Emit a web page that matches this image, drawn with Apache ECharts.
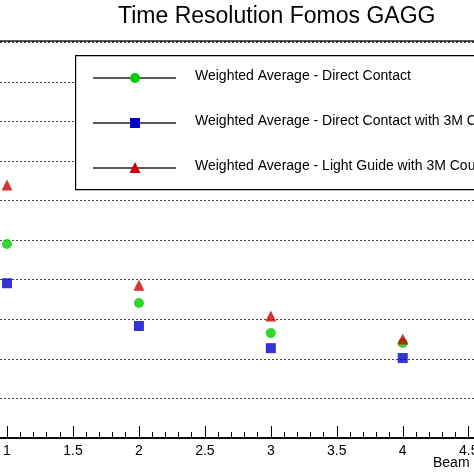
<!DOCTYPE html>
<html><head><meta charset="utf-8">
<script src="https://cdn.jsdelivr.net/npm/echarts@6/dist/echarts.min.js"></script>
<style>html,body{margin:0;background:#fff}#c{width:474px;height:474px}</style>
</head><body><div id="c"></div>
<script>
// beam positions and time resolution (arbitrary grid units, y labels cropped off)
var beam = [1, 2, 3, 4];
var directContact = [4.90, 3.41, 2.65, 2.40];
var directContact3M = [3.91, 2.83, 2.27, 2.02];
var lightGuide3M = [6.39, 3.86, 3.08, 2.50];
var majorTicks = [1, 1.5, 2, 2.5, 3, 3.5, 4, 4.5];
var minorTicks = [];
for (var t = 1; t <= 4.5; t += 0.1) minorTicks.push(+t.toFixed(1));

function pairs(ys) { return beam.map(function (x, i) { return [x, ys[i]]; }); }

var chart = echarts.init(document.getElementById('c'));
var axBase = { type: 'value', min: 0.947, max: 4.54, position: 'bottom',
  axisLine: { lineStyle: { color: '#000', width: 1.5 } }, splitLine: { show: false } };
var legendItems = [
  { name: 'Weighted Average - Direct Contact', color: '#00cc00', shape: 'circle' },
  { name: 'Weighted Average - Direct Contact with 3M C', color: '#0000cc', shape: 'rect' },
  { name: 'Weighted Average - Light Guide with 3M Cou', color: '#cc0000', shape: 'tri' }
];
var g = [
  { type: 'line', z: 100, shape: { x1: 0, y1: 41, x2: 474, y2: 41 }, style: { stroke: '#222', lineWidth: 1.5 } },
  { type: 'rect', left: 75, top: 55, shape: { width: 420, height: 134 }, z: 100,
    style: { fill: '#fff', stroke: '#000', lineWidth: 1.2 } },
  { type: 'text', left: 433, top: 456, z: 100, style: { text: 'Beam', font: '14px Liberation Sans', fill: '#000' } }
];
legendItems.forEach(function (it, i) {
  var y = 78 + i * 45;
  g.push({ type: 'line', z: 101, shape: { x1: 93, y1: y, x2: 176, y2: y }, style: { stroke: '#222', lineWidth: 1.3 } });
  if (it.shape === 'circle') g.push({ type: 'circle', z: 102, shape: { cx: 135, cy: y, r: 5 }, style: { fill: it.color } });
  else if (it.shape === 'rect') g.push({ type: 'rect', z: 102, shape: { x: 130, y: y - 5, width: 10, height: 10 }, style: { fill: it.color } });
  else g.push({ type: 'polygon', z: 102, shape: { points: [[135, y - 6], [129.5, y + 5], [140.5, y + 5]] }, style: { fill: it.color } });
  g.push({ type: 'text', z: 102, left: 195, top: y - 9, style: { text: it.name, font: '14px Liberation Sans', fill: '#000' } });
});

chart.setOption({
  animation: false,
  title: { text: 'Time Resolution Fomos GAGG', left: 113, top: 0,
    textStyle: { fontFamily: 'Liberation Sans', fontWeight: 'normal', fontSize: 23, color: '#000' } },
  grid: { left: 0, right: 0, top: 41, bottom: 36, outerBoundsMode: 'none' },
  xAxis: [
    Object.assign({}, axBase, {
      axisTick: { inside: true, length: 12, customValues: majorTicks, lineStyle: { color: '#000' } },
      axisLabel: { customValues: majorTicks, color: '#000', fontSize: 14, fontFamily: 'Liberation Sans', margin: 6 }
    }),
    Object.assign({}, axBase, {
      axisTick: { inside: true, length: 6, customValues: minorTicks, lineStyle: { color: '#000' } },
      axisLabel: { show: false }
    })
  ],
  yAxis: { type: 'value', min: 0, max: 10.03, interval: 1,
    axisLine: { show: false }, axisTick: { show: false }, axisLabel: { show: false },
    splitLine: { lineStyle: { type: [2, 2], color: '#444' } } },
  series: [
    { type: 'scatter', data: pairs(directContact), symbol: 'circle', symbolSize: 10, itemStyle: { color: '#00cc00' } },
    { type: 'scatter', data: pairs(directContact3M), symbol: 'rect', symbolSize: 10, itemStyle: { color: '#0000cc' } },
    { type: 'scatter', data: pairs(lightGuide3M), symbol: 'triangle', symbolSize: 11, itemStyle: { color: '#cc0000' } }
  ],
  graphic: g
});
</script></body></html>
